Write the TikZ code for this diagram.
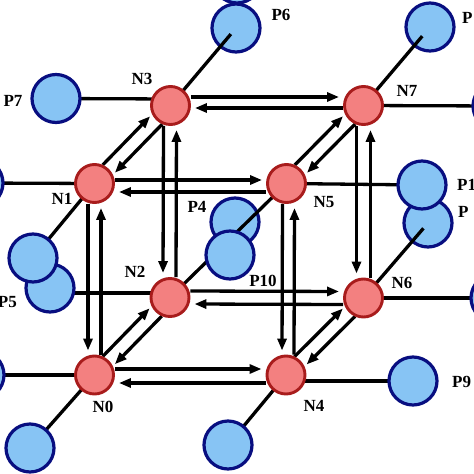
\documentclass[tikz,border=0pt]{standalone}
\usepackage{fontspec}
\setmainfont{Liberation Serif}
\usetikzlibrary{arrows.meta,calc}
\pgfdeclarelayer{back}
\pgfdeclarelayer{mid}
\pgfsetlayers{back,mid,main}
\definecolor{rfill}{RGB}{243,128,128}
\definecolor{rdraw}{RGB}{168,28,28}
\definecolor{bfill}{RGB}{135,196,244}
\definecolor{bdraw}{RGB}{8,14,128}
\begin{document}
\begin{tikzpicture}[x=1pt,y=-1pt,
 rnode/.style={circle,fill=rfill,draw=rdraw,line width=2.9pt,minimum size=38pt,inner sep=0pt},
 pnode/.style={circle,fill=bfill,draw=bdraw,line width=3.2pt,minimum size=48pt,inner sep=0pt},
 link/.style={line width=3.3pt,draw=black},
 arr/.style={link,-{Triangle[length=12pt,width=9pt]},shorten >=4pt},
 darr/.style={link,-{Triangle[length=12pt,width=9pt]},shorten <=19pt,shorten >=22pt},
 lbl/.style={font=\bfseries\fontsize{17}{17}\selectfont,inner sep=0pt}]
\useasboundingbox (0,0) rectangle (474,474);
% blue circles below the lines
\begin{pgfonlayer}{back}
\fill[white] (0,0) rectangle (474,474);
\node[pnode] (Ptop) at (237,-21) {};
\node[pnode] (P6c) at (236,28) {};
\node[pnode] (PTR) at (430,27) {};
\node[pnode] (PRL) at (428,223) {};
\node[pnode] (P4c) at (235,222) {};
\end{pgfonlayer}
% blue circles above the lines
\node[pnode] (P1c) at (422,185) {};
\node[pnode] (P10c) at (230,255) {};
\node[pnode] (P5l) at (50,288) {};
\node[pnode] (P5u) at (33,258) {};
\node[pnode] (P7c) at (56,98.5) {};
\node[pnode] (R7) at (497,106) {};
\node[pnode] (L1) at (-21,183) {};
\node[pnode] (R6) at (495,298) {};
\node[pnode] (L0) at (-20,375) {};
\node[pnode] (P9c) at (413,381) {};
\node[pnode] (BL) at (30,448) {};
\node[pnode] (BM) at (228,445) {};
% red nodes
\node[rnode] (N0) at (94.5,375) {};
\node[rnode] (N1) at (94.5,183.5) {};
\node[rnode] (N2) at (170,297.5) {};
\node[rnode] (N3) at (170.5,105.5) {};
\node[rnode] (N4) at (286,375) {};
\node[rnode] (N5) at (286.5,183.5) {};
\node[rnode] (N6) at (363.5,298) {};
\node[rnode] (N7) at (363.5,105.5) {};
% connectors
\begin{pgfonlayer}{mid}
\draw[link] ($(N3.center)+(0,-6.5)$) -- (P7c.center);
\draw[link] (N7.center) -- (R7.center);
\draw[link] (L1.center) -- (N1.center);
\draw[link] (N5.center) -- (P1c.center);
\draw[link] ($(N2.center)+(0,-4.5)$) -- ($(P5l.center)+(0,5)$);
\draw[link] (N6.center) -- (R6.center);
\draw[link] (L0.center) -- (N0.center);
\draw[link] ($(N4.center)+(0,6)$) -- (P9c.center);
\draw[link,shorten >=8pt] (N3.center) -- (P6c.center);
\draw[link,shorten >=12pt] (N7.center) -- (PTR.center);
\draw[link,shorten >=7pt] (N6.center) -- (PRL.center);
\draw[link] (N5.center) -- ($(N5)!0.55!(N2)$);
\draw[link] (N2.center) -- ($(N2)!0.5!(N5)$);
\draw[link] (N1.center) -- (P5u.center);
\draw[link] (N0.center) -- (BL.center);
\draw[link] (N4.center) -- (BM.center);
% horizontal pairs
\draw[arr] ($(N1.east)+(0,-3.5)$) -- ($(N5.west)+(0,-3.5)$);
\draw[arr] ($(N5.west)+(0,8.5)$) -- ($(N1.east)+(0,8.5)$);
\draw[arr] ($(N3.east)+(0,-8.5)$) -- ($(N7.west)+(0,-8.5)$);
\draw[arr] ($(N7.west)+(0,2.5)$) -- ($(N3.east)+(0,2.5)$);
\draw[arr] ($(N2.east)+(0,-6.5)$) -- ($(N6.west)+(0,-6.5)$);
\draw[arr] ($(N6.west)+(0,6.5)$) -- ($(N2.east)+(0,6.5)$);
\draw[arr] ($(N0.east)+(0,-6)$) -- ($(N4.west)+(0,-6)$);
\draw[arr] ($(N4.west)+(0,8)$) -- ($(N0.east)+(0,8)$);
% vertical pairs
\draw[arr] ($(N1.south)+(-6.5,0)$) -- ($(N0.north)+(-6.5,0)$);
\draw[arr] ($(N0.north)+(6.5,0)$) -- ($(N1.south)+(6.5,0)$);
\draw[arr] ($(N3.south)+(-7,0)$) -- ($(N2.north)+(-7,0)$);
\draw[arr] ($(N2.north)+(6,0)$) -- ($(N3.south)+(6,0)$);
\draw[arr] ($(N5.south)+(-4,0)$) -- ($(N4.north)+(-4,0)$);
\draw[arr] ($(N4.north)+(8,0)$) -- ($(N5.south)+(8,0)$);
\draw[arr] ($(N7.south)+(-7,0)$) -- ($(N6.north)+(-7,0)$);
\draw[arr] ($(N6.north)+(7,0)$) -- ($(N7.south)+(7,0)$);
% diagonal pairs
\draw[darr] ($(N0)+(-5,-5)$) -- ($(N2)+(-5,-5)$);
\draw[darr] ($(N2)+(5,5)$) -- ($(N0)+(5,5)$);
\draw[darr] ($(N1)+(-5,-5)$) -- ($(N3)+(-5,-5)$);
\draw[darr] ($(N3)+(5,5)$) -- ($(N1)+(5,5)$);
\draw[darr] ($(N4)+(-5,-5)$) -- ($(N6)+(-5,-5)$);
\draw[darr] ($(N6)+(5,5)$) -- ($(N4)+(5,5)$);
\draw[darr] ($(N5)+(-5,-5)$) -- ($(N7)+(-5,-5)$);
\draw[darr] ($(N7)+(5,5)$) -- ($(N5)+(5,5)$);
\end{pgfonlayer}
% labels
\node[lbl] (tN3) at (142,79) {N3};
\node[lbl] (tN1) at (62,199) {N1};
\node[lbl] (tN7) at (407,91) {N7};
\node[lbl] (tN5) at (324,202) {N5};
\node[lbl] (tN2) at (135,272) {N2};
\node[lbl] (tN0) at (103,407) {N0};
\node[lbl] (tN6) at (402,283) {N6};
\node[lbl] (tN4) at (314,406) {N4};
\node[lbl] (tP7) at (13,101) {P7};
\node[lbl] (tP6) at (281,15) {P6};
\node[lbl] (tP4) at (197,207) {P4};
\node[lbl] (tP10) at (263,281) {P10};
\node[lbl,anchor=west] (tP9) at (452,382) {P9};
\node[lbl,anchor=west] (tP1) at (457,185) {P1};
\node[lbl,anchor=west] (tPa) at (458,212) {P};
\node[lbl,anchor=west] (tPb) at (462,18) {P};
\node[lbl,anchor=east] (tP5) at (17,302) {P5};
\end{tikzpicture}
\end{document}
